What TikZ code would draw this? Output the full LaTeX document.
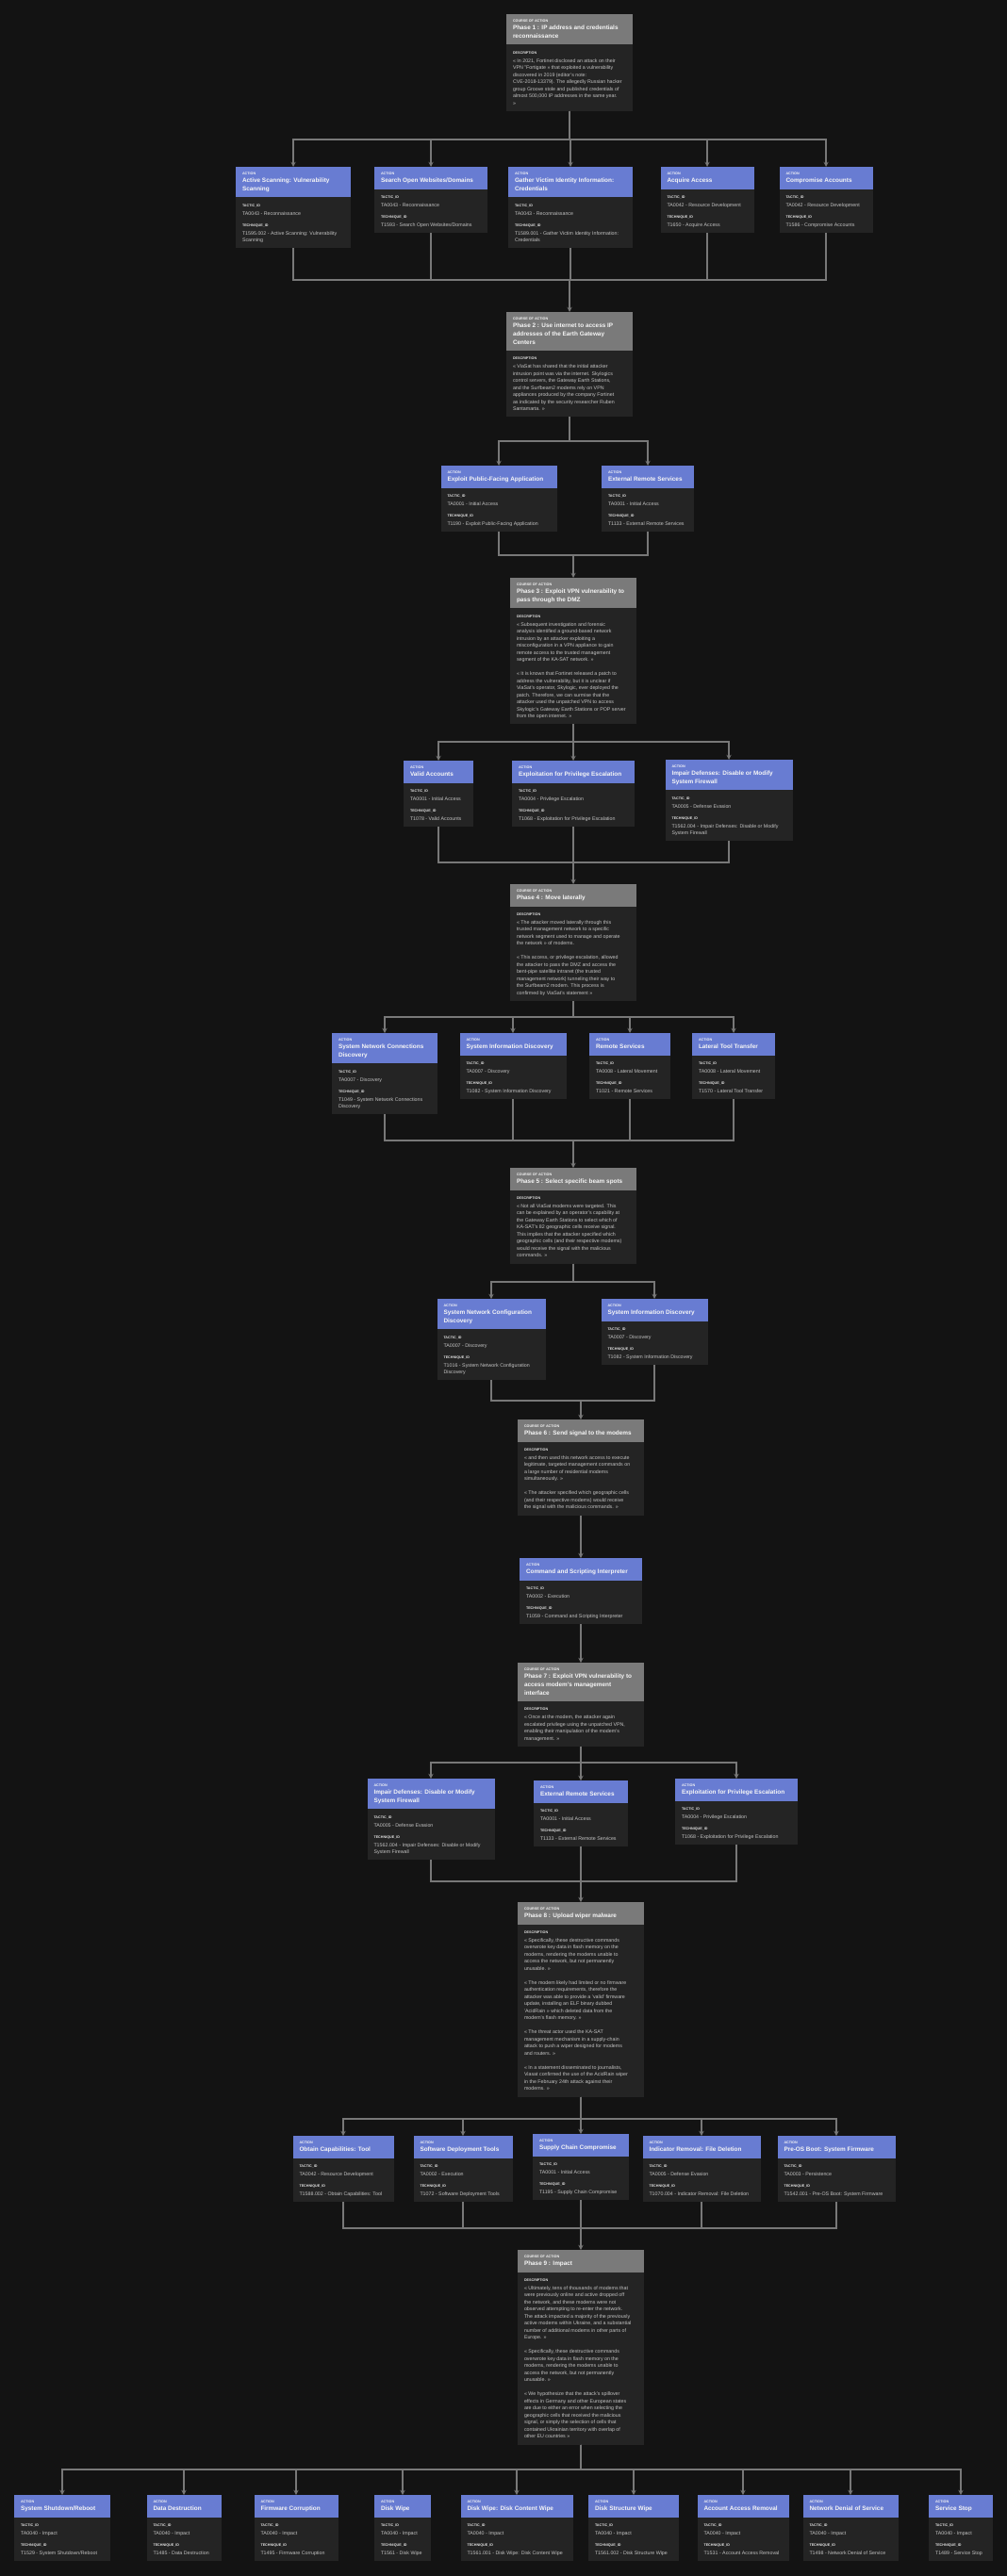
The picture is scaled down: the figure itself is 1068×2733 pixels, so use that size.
\documentclass[tikz,border=0pt]{standalone}
\usepackage{fontspec}
\setmainfont{Liberation Sans}
\usetikzlibrary{shapes.multipart, arrows}
\definecolor{bgdark}{RGB}{19,19,19}
\definecolor{cardbody}{RGB}{36,36,36}
\definecolor{coagray}{RGB}{122,122,122}
\definecolor{actblue}{RGB}{104,124,210}
\definecolor{hdrtext}{RGB}{246,246,246}
\definecolor{bodytext}{RGB}{196,196,196}
\definecolor{lbltext}{RGB}{228,228,228}
\definecolor{linkgray}{RGB}{120,120,120}
\newcommand{\nowrap}{\spaceskip=0pt\xspaceskip=0pt\rightskip=0pt plus 1fil minus 40pt\hyphenpenalty=10000\exhyphenpenalty=10000\relax}
\newcommand{\lblf}{\fontsize{3.7}{4.5}\selectfont\bfseries}
\newcommand{\hdrf}{\nowrap\fontsize{6.4}{8.7}\selectfont\bfseries\color{hdrtext}}
\newcommand{\bdyf}{\nowrap\fontsize{5.3}{7.5}\selectfont\color{bodytext}}
\newcommand{\upstrut}{\rule{0pt}{3.5pt}}
\newcommand{\lblstrut}{\rule{0pt}{5pt}}
\newcommand{\dnstrut}{\rule[-2pt]{0pt}{2pt}}
\newcommand{\actcard}[3]{\hdrf\upstrut{\lblf ACTION}\\#1\dnstrut\par\nodepart{two}\bdyf\lblstrut{\lblf\color{lbltext}TACTIC\_ID}\\[1.5pt]#2\\[4.5pt]{\lblf\color{lbltext}TECHNIQUE\_ID}\\[1.5pt]#3\dnstrut\par}
\newcommand{\coacard}[2]{\hdrf\upstrut{\lblf COURSE OF ACTION}\\#1\dnstrut\par\nodepart{two}\bdyf\lblstrut{\lblf\color{lbltext}DESCRIPTION}\\[1.5pt]#2\dnstrut\par}
\tikzstyle{coabox} = [rectangle split, rectangle split parts=2, rectangle split part fill={coagray,cardbody}, inner xsep=7pt, inner ysep=4.5pt, outer sep=0pt, align=left, anchor=north]
\tikzstyle{actbox} = [coabox, rectangle split part fill={actblue,cardbody}]
\tikzstyle{bus} = [draw=linkgray, line width=1.3pt]
\tikzstyle{arrow} = [bus, ->, >=stealth]
\begin{document}
\begin{tikzpicture}[x=1pt, y=-1pt]

	\fill [bgdark] (0,0) rectangle (1068,2733);
	\useasboundingbox (0,0) rectangle (1068,2733);

	\node (phaseOne) [coabox, text width=120pt] at (604,15) {\coacard{Phase 1 : IP address and credentials\\reconnaissance}{« In 2021, Fortinet disclosed an attack on their\\VPN "Fortigate » that exploited a vulnerability\\discovered in 2019 (editor's note:\\CVE-2018-13379). The allegedly Russian hacker\\group Groove stole and published credentials of\\almost 500,000 IP addresses in the same year.\\»}};

	\node (activeScan) [actbox, text width=108pt] at (311,177) {\actcard{Active Scanning: Vulnerability\\Scanning}{TA0043 - Reconnaissance}{T1595.002 - Active Scanning: Vulnerability\\Scanning}};
	\node (searchWeb) [actbox, text width=106pt] at (457,177) {\actcard{Search Open Websites/Domains}{TA0043 - Reconnaissance}{T1593 - Search Open Websites/Domains}};
	\node (gatherCreds) [actbox, text width=118pt] at (605,177) {\actcard{Gather Victim Identity Information:\\Credentials}{TA0043 - Reconnaissance}{T1589.001 - Gather Victim Identity Information:\\Credentials}};
	\node (acquireAccess) [actbox, text width=85pt] at (750,177) {\actcard{Acquire Access}{TA0042 - Resource Development}{T1650 - Acquire Access}};
	\node (compromiseAcc) [actbox, text width=85pt] at (876,177) {\actcard{Compromise Accounts}{TA0042 - Resource Development}{T1586 - Compromise Accounts}};

	\node (phaseTwo) [coabox, text width=120pt] at (604,331) {\coacard{Phase 2 : Use internet to access IP\\addresses of the Earth Gateway\\Centers}{« ViaSat has shared that the initial attacker\\intrusion point was via the internet. Skylogics\\control servers, the Gateway Earth Stations,\\and the Surfbeam2 modems rely on VPN\\appliances produced by the company Fortinet\\as indicated by the security researcher Ruben\\Santamarta. »}};

	\node (exploitApp) [actbox, text width=109pt] at (529,494) {\actcard{Exploit Public-Facing Application}{TA0001 - Initial Access}{T1190 - Exploit Public-Facing Application}};
	\node (extRemote) [actbox, text width=84pt] at (687,494) {\actcard{External Remote Services}{TA0001 - Initial Access}{T1133 - External Remote Services}};

	\node (phaseThree) [coabox, text width=120pt] at (608,613) {\coacard{Phase 3 : Exploit VPN vulnerability to\\pass through the DMZ}{« Subsequent investigation and forensic\\analysis identified a ground-based network\\intrusion by an attacker exploiting a\\misconfiguration in a VPN appliance to gain\\remote access to the trusted management\\segment of the KA-SAT network. »\\[7.5pt]« It is known that Fortinet released a patch to\\address the vulnerability, but it is unclear if\\ViaSat's operator, Skylogic, ever deployed the\\patch. Therefore, we can surmise that the\\attacker used the unpatched VPN to access\\Skylogic's Gateway Earth Stations or POP server\\from the open internet. »}};

	\node (validAcc) [actbox, text width=60pt] at (465,807) {\actcard{Valid Accounts}{TA0001 - Initial Access}{T1078 - Valid Accounts}};
	\node (privEsc) [actbox, text width=116pt] at (608,807) {\actcard{Exploitation for Privilege Escalation}{TA0004 - Privilege Escalation}{T1068 - Exploitation for Privilege Escalation}};
	\node (impairFw) [actbox, text width=121pt] at (773,806) {\actcard{Impair Defenses: Disable or Modify\\System Firewall}{TA0005 - Defense Evasion}{T1562.004 - Impair Defenses: Disable or Modify\\System Firewall}};

	\node (phaseFour) [coabox, text width=120pt] at (608,938) {\coacard{Phase 4 : Move laterally}{« The attacker moved laterally through this\\trusted management network to a specific\\network segment used to manage and operate\\the network » of modems.\\[7.5pt]« This access, or privilege escalation, allowed\\the attacker to pass the DMZ and access the\\bent-pipe satellite intranet (the trusted\\management network) tunneling their way to\\the Surfbeam2 modem. This process is\\confirmed by ViaSat's statement »}};

	\node (netConnDisc) [actbox, text width=98pt] at (408,1096) {\actcard{System Network Connections\\Discovery}{TA0007 - Discovery}{T1049 - System Network Connections\\Discovery}};
	\node (sysInfoDisc) [actbox, text width=99pt] at (544,1096) {\actcard{System Information Discovery}{TA0007 - Discovery}{T1082 - System Information Discovery}};
	\node (remoteServ) [actbox, text width=72pt] at (668,1096) {\actcard{Remote Services}{TA0008 - Lateral Movement}{T1021 - Remote Services}};
	\node (lateralTool) [actbox, text width=74pt] at (778,1096) {\actcard{Lateral Tool Transfer}{TA0008 - Lateral Movement}{T1570 - Lateral Tool Transfer}};

	\node (phaseFive) [coabox, text width=120pt] at (608,1239) {\coacard{Phase 5 : Select specific beam spots}{« Not all ViaSat modems were targeted. This\\can be explained by an operator's capability at\\the Gateway Earth Stations to select which of\\KA-SAT's 82 geographic cells receive signal.\\This implies that the attacker specified which\\geographic cells (and their respective modems)\\would receive the signal with the malicious\\commands. »}};

	\node (netConfDisc) [actbox, text width=101pt] at (521,1378) {\actcard{System Network Configuration\\Discovery}{TA0007 - Discovery}{T1016 - System Network Configuration\\Discovery}};
	\node (sysInfoDiscB) [actbox, text width=99pt] at (694,1378) {\actcard{System Information Discovery}{TA0007 - Discovery}{T1082 - System Information Discovery}};

	\node (phaseSix) [coabox, text width=120pt] at (616,1506) {\coacard{Phase 6 : Send signal to the modems}{« and then used this network access to execute\\legitimate, targeted management commands on\\a large number of residential modems\\simultaneously. »\\[7.5pt]« The attacker specified which geographic cells\\(and their respective modems) would receive\\the signal with the malicious commands. »}};

	\node (cmdScript) [actbox, text width=116pt] at (616,1653) {\actcard{Command and Scripting Interpreter}{TA0002 - Execution}{T1059 - Command and Scripting Interpreter}};

	\node (phaseSeven) [coabox, text width=120pt] at (616,1764) {\coacard{Phase 7 : Exploit VPN vulnerability to\\access modem's management\\interface}{« Once at the modem, the attacker again\\escalated privilege using the unpatched VPN,\\enabling their manipulation of the modem's\\management. »}};

	\node (impairFwB) [actbox, text width=121pt] at (457,1887) {\actcard{Impair Defenses: Disable or Modify\\System Firewall}{TA0005 - Defense Evasion}{T1562.004 - Impair Defenses: Disable or Modify\\System Firewall}};
	\node (extRemoteB) [actbox, text width=86pt] at (616,1889) {\actcard{External Remote Services}{TA0001 - Initial Access}{T1133 - External Remote Services}};
	\node (privEscB) [actbox, text width=116pt] at (781,1887) {\actcard{Exploitation for Privilege Escalation}{TA0004 - Privilege Escalation}{T1068 - Exploitation for Privilege Escalation}};

	\node (phaseEight) [coabox, text width=120pt] at (616,2018) {\coacard{Phase 8 : Upload wiper malware}{« Specifically, these destructive commands\\overwrote key data in flash memory on the\\modems, rendering the modems unable to\\access the network, but not permanently\\unusable. »\\[7.5pt]« The modem likely had limited or no firmware\\authentication requirements, therefore the\\attacker was able to provide a 'valid' firmware\\update, installing an ELF binary dubbed\\'AcidRain » which deleted data from the\\modem's flash memory. »\\[7.5pt]« The threat actor used the KA-SAT\\management mechanism in a supply-chain\\attack to push a wiper designed for modems\\and routers. »\\[7.5pt]« In a statement disseminated to journalists,\\Viasat confirmed the use of the AcidRain wiper\\in the February 24th attack against their\\modems. »}};

	\node (obtainTool) [actbox, text width=93pt] at (364,2266) {\actcard{Obtain Capabilities: Tool}{TA0042 - Resource Development}{T1588.002 - Obtain Capabilities: Tool}};
	\node (softDeploy) [actbox, text width=91pt] at (491,2266) {\actcard{Software Deployment Tools}{TA0002 - Execution}{T1072 - Software Deployment Tools}};
	\node (supplyChain) [actbox, text width=88pt] at (616,2264) {\actcard{Supply Chain Compromise}{TA0001 - Initial Access}{T1195 - Supply Chain Compromise}};
	\node (fileDelete) [actbox, text width=111pt] at (744,2266) {\actcard{Indicator Removal: File Deletion}{TA0005 - Defense Evasion}{T1070.004 - Indicator Removal: File Deletion}};
	\node (sysFirmware) [actbox, text width=111pt] at (887,2266) {\actcard{Pre-OS Boot: System Firmware}{TA0003 - Persistence}{T1542.001 - Pre-OS Boot: System Firmware}};

	\node (phaseNine) [coabox, text width=120pt] at (616,2387) {\coacard{Phase 9 : Impact}{« Ultimately, tens of thousands of modems that\\were previously online and active dropped off\\the network, and these modems were not\\observed attempting to re-enter the network.\\The attack impacted a majority of the previously\\active modems within Ukraine, and a substantial\\number of additional modems in other parts of\\Europe. »\\[7.5pt]« Specifically, these destructive commands\\overwrote key data in flash memory on the\\modems, rendering the modems unable to\\access the network, but not permanently\\unusable. »\\[7.5pt]« We hypothesize that the attack's spillover\\effects in Germany and other European states\\are due to either an error when selecting the\\geographic cells that received the malicious\\signal, or simply the selection of cells that\\contained Ukrainian territory with overlap of\\other EU countries »}};

	\node (shutdown) [actbox, text width=88pt] at (66,2647) {\actcard{System Shutdown/Reboot}{TA0040 - Impact}{T1529 - System Shutdown/Reboot}};
	\node (dataDestr) [actbox, text width=65pt] at (195,2647) {\actcard{Data Destruction}{TA0040 - Impact}{T1485 - Data Destruction}};
	\node (fwCorrupt) [actbox, text width=75pt] at (314,2647) {\actcard{Firmware Corruption}{TA0040 - Impact}{T1495 - Firmware Corruption}};
	\node (diskWipe) [actbox, text width=46pt] at (427,2647) {\actcard{Disk Wipe}{TA0040 - Impact}{T1561 - Disk Wipe}};
	\node (contentWipe) [actbox, text width=105pt] at (548,2647) {\actcard{Disk Wipe: Disk Content Wipe}{TA0040 - Impact}{T1561.001 - Disk Wipe: Disk Content Wipe}};
	\node (structWipe) [actbox, text width=82pt] at (672,2647) {\actcard{Disk Structure Wipe}{TA0040 - Impact}{T1561.002 - Disk Structure Wipe}};
	\node (accRemoval) [actbox, text width=83pt] at (788,2647) {\actcard{Account Access Removal}{TA0040 - Impact}{T1531 - Account Access Removal}};
	\node (netDos) [actbox, text width=87pt] at (902,2647) {\actcard{Network Denial of Service}{TA0040 - Impact}{T1498 - Network Denial of Service}};
	\node (serviceStop) [actbox, text width=54pt] at (1019,2647) {\actcard{Service Stop}{TA0040 - Impact}{T1489 - Service Stop}};

	\coordinate (splitOne) at (0,148);
	\coordinate (joinOne) at (0,297);
	\coordinate (splitTwo) at (0,468);
	\coordinate (joinTwo) at (0,589);
	\coordinate (splitThree) at (0,787);
	\coordinate (joinThree) at (0,915);
	\coordinate (splitFour) at (0,1079);
	\coordinate (joinFour) at (0,1210);
	\coordinate (splitFive) at (0,1360);
	\coordinate (joinFive) at (0,1486);
	\coordinate (splitSeven) at (0,1870);
	\coordinate (joinSeven) at (0,1996);
	\coordinate (splitEight) at (0,2248);
	\coordinate (joinEight) at (0,2364);
	\coordinate (splitNine) at (0,2620);

	\draw [arrow] (phaseOne.south) |- (splitOne -| activeScan.north) -- (activeScan.north);
	\draw [arrow] (phaseOne.south) |- (splitOne -| searchWeb.north) -- (searchWeb.north);
	\draw [arrow] (phaseOne.south) |- (splitOne -| gatherCreds.north) -- (gatherCreds.north);
	\draw [arrow] (phaseOne.south) |- (splitOne -| acquireAccess.north) -- (acquireAccess.north);
	\draw [arrow] (phaseOne.south) |- (splitOne -| compromiseAcc.north) -- (compromiseAcc.north);

	\draw [bus] (activeScan.south) |- (joinOne -| phaseTwo.north);
	\draw [bus] (searchWeb.south) |- (joinOne -| phaseTwo.north);
	\draw [bus] (gatherCreds.south) |- (joinOne -| phaseTwo.north);
	\draw [bus] (acquireAccess.south) |- (joinOne -| phaseTwo.north);
	\draw [bus] (compromiseAcc.south) |- (joinOne -| phaseTwo.north);
	\draw [arrow] (joinOne -| phaseTwo.north) -- (phaseTwo.north);

	\draw [arrow] (phaseTwo.south) |- (splitTwo -| exploitApp.north) -- (exploitApp.north);
	\draw [arrow] (phaseTwo.south) |- (splitTwo -| extRemote.north) -- (extRemote.north);

	\draw [bus] (exploitApp.south) |- (joinTwo -| phaseThree.north);
	\draw [bus] (extRemote.south) |- (joinTwo -| phaseThree.north);
	\draw [arrow] (joinTwo -| phaseThree.north) -- (phaseThree.north);

	\draw [arrow] (phaseThree.south) |- (splitThree -| validAcc.north) -- (validAcc.north);
	\draw [arrow] (phaseThree.south) |- (splitThree -| privEsc.north) -- (privEsc.north);
	\draw [arrow] (phaseThree.south) |- (splitThree -| impairFw.north) -- (impairFw.north);

	\draw [bus] (validAcc.south) |- (joinThree -| phaseFour.north);
	\draw [bus] (privEsc.south) |- (joinThree -| phaseFour.north);
	\draw [bus] (impairFw.south) |- (joinThree -| phaseFour.north);
	\draw [arrow] (joinThree -| phaseFour.north) -- (phaseFour.north);

	\draw [arrow] (phaseFour.south) |- (splitFour -| netConnDisc.north) -- (netConnDisc.north);
	\draw [arrow] (phaseFour.south) |- (splitFour -| sysInfoDisc.north) -- (sysInfoDisc.north);
	\draw [arrow] (phaseFour.south) |- (splitFour -| remoteServ.north) -- (remoteServ.north);
	\draw [arrow] (phaseFour.south) |- (splitFour -| lateralTool.north) -- (lateralTool.north);

	\draw [bus] (netConnDisc.south) |- (joinFour -| phaseFive.north);
	\draw [bus] (sysInfoDisc.south) |- (joinFour -| phaseFive.north);
	\draw [bus] (remoteServ.south) |- (joinFour -| phaseFive.north);
	\draw [bus] (lateralTool.south) |- (joinFour -| phaseFive.north);
	\draw [arrow] (joinFour -| phaseFive.north) -- (phaseFive.north);

	\draw [arrow] (phaseFive.south) |- (splitFive -| netConfDisc.north) -- (netConfDisc.north);
	\draw [arrow] (phaseFive.south) |- (splitFive -| sysInfoDiscB.north) -- (sysInfoDiscB.north);

	\draw [bus] (netConfDisc.south) |- (joinFive -| phaseSix.north);
	\draw [bus] (sysInfoDiscB.south) |- (joinFive -| phaseSix.north);
	\draw [arrow] (joinFive -| phaseSix.north) -- (phaseSix.north);

	\draw [arrow] (phaseSix.south) -- (cmdScript.north);
	\draw [arrow] (cmdScript.south) -- (phaseSeven.north);

	\draw [arrow] (phaseSeven.south) |- (splitSeven -| impairFwB.north) -- (impairFwB.north);
	\draw [arrow] (phaseSeven.south) |- (splitSeven -| extRemoteB.north) -- (extRemoteB.north);
	\draw [arrow] (phaseSeven.south) |- (splitSeven -| privEscB.north) -- (privEscB.north);

	\draw [bus] (impairFwB.south) |- (joinSeven -| phaseEight.north);
	\draw [bus] (extRemoteB.south) |- (joinSeven -| phaseEight.north);
	\draw [bus] (privEscB.south) |- (joinSeven -| phaseEight.north);
	\draw [arrow] (joinSeven -| phaseEight.north) -- (phaseEight.north);

	\draw [arrow] (phaseEight.south) |- (splitEight -| obtainTool.north) -- (obtainTool.north);
	\draw [arrow] (phaseEight.south) |- (splitEight -| softDeploy.north) -- (softDeploy.north);
	\draw [arrow] (phaseEight.south) |- (splitEight -| supplyChain.north) -- (supplyChain.north);
	\draw [arrow] (phaseEight.south) |- (splitEight -| fileDelete.north) -- (fileDelete.north);
	\draw [arrow] (phaseEight.south) |- (splitEight -| sysFirmware.north) -- (sysFirmware.north);

	\draw [bus] (obtainTool.south) |- (joinEight -| phaseNine.north);
	\draw [bus] (softDeploy.south) |- (joinEight -| phaseNine.north);
	\draw [bus] (supplyChain.south) |- (joinEight -| phaseNine.north);
	\draw [bus] (fileDelete.south) |- (joinEight -| phaseNine.north);
	\draw [bus] (sysFirmware.south) |- (joinEight -| phaseNine.north);
	\draw [arrow] (joinEight -| phaseNine.north) -- (phaseNine.north);

	\draw [arrow] (phaseNine.south) |- (splitNine -| shutdown.north) -- (shutdown.north);
	\draw [arrow] (phaseNine.south) |- (splitNine -| dataDestr.north) -- (dataDestr.north);
	\draw [arrow] (phaseNine.south) |- (splitNine -| fwCorrupt.north) -- (fwCorrupt.north);
	\draw [arrow] (phaseNine.south) |- (splitNine -| diskWipe.north) -- (diskWipe.north);
	\draw [arrow] (phaseNine.south) |- (splitNine -| contentWipe.north) -- (contentWipe.north);
	\draw [arrow] (phaseNine.south) |- (splitNine -| structWipe.north) -- (structWipe.north);
	\draw [arrow] (phaseNine.south) |- (splitNine -| accRemoval.north) -- (accRemoval.north);
	\draw [arrow] (phaseNine.south) |- (splitNine -| netDos.north) -- (netDos.north);
	\draw [arrow] (phaseNine.south) |- (splitNine -| serviceStop.north) -- (serviceStop.north);

\end{tikzpicture}
\end{document}
